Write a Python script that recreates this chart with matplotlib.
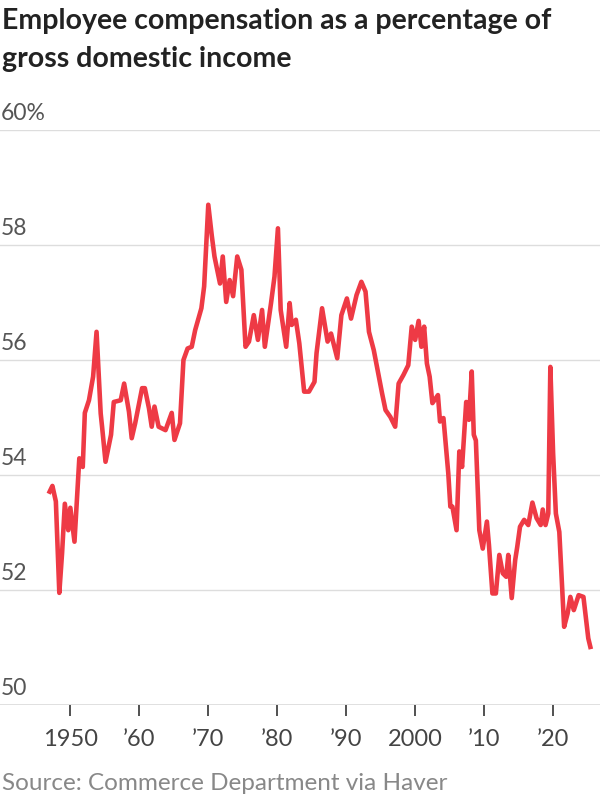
import matplotlib.pyplot as plt

years = [1947.0, 1947.4, 1947.9, 1948.4, 1948.8, 1949.2, 1949.7, 1950.0, 1950.6, 1951.3,
         1951.8, 1952.1, 1952.7, 1953.3, 1953.8, 1954.4, 1954.6, 1955.1, 1955.9, 1956.3,
         1957.3, 1957.8, 1958.5, 1958.9, 1959.4, 1960.4, 1960.8, 1961.4, 1961.8, 1962.2,
         1962.8, 1963.8, 1964.7, 1965.1, 1965.9, 1966.4, 1967.0, 1967.6, 1968.1, 1969.0,
         1969.4, 1970.0, 1970.5, 1970.9, 1971.7, 1972.1, 1972.6, 1973.1, 1973.6, 1974.2,
         1974.8, 1975.4, 1975.9, 1976.6, 1977.2, 1977.8, 1978.2, 1979.1, 1979.6, 1980.1,
         1980.5, 1981.3, 1981.8, 1982.1, 1982.7, 1983.2, 1983.9, 1984.6, 1985.4, 1985.7,
         1986.5, 1987.3, 1987.8, 1988.7, 1989.3, 1990.1, 1990.7, 1991.5, 1992.2, 1992.8,
         1993.3, 1994.0, 1994.5, 1995.2, 1995.7, 1996.4, 1997.1, 1997.6, 1998.3, 1999.0,
         1999.5, 2000.0, 2000.5, 2000.9, 2001.3, 2001.7, 2002.1, 2002.5, 2003.3, 2003.6,
         2004.1, 2004.8, 2005.1, 2005.4, 2006.0, 2006.4, 2006.8, 2007.4, 2007.8, 2008.2,
         2008.5, 2008.8, 2009.3, 2009.8, 2010.4, 2010.7, 2011.2, 2011.7, 2012.2, 2012.7,
         2013.2, 2013.5, 2014.0, 2014.5, 2014.8, 2015.2, 2015.8, 2016.4, 2017.0, 2017.6,
         2018.2, 2018.5, 2018.9, 2019.3, 2019.6, 2020.0, 2020.4, 2020.9, 2021.6, 2022.1,
         2022.5, 2023.0, 2023.7, 2024.4, 2025.1, 2025.4]
share = [53.71, 53.81, 53.54, 51.95, 52.64, 53.5, 53.04, 53.43, 52.84, 54.29,
         54.14, 55.08, 55.3, 55.71, 56.49, 55.07, 54.84, 54.23, 54.70, 55.27,
         55.30, 55.59, 55.10, 54.64, 54.90, 55.51, 55.51, 55.16, 54.84, 55.19,
         54.84, 54.78, 55.08, 54.61, 54.90, 56.0, 56.2, 56.23, 56.52, 56.90,
         57.28, 58.7, 58.17, 57.8, 57.33, 57.8, 57.01, 57.39, 57.11, 57.8,
         57.57, 56.23, 56.32, 56.78, 56.35, 56.87, 56.23, 56.99, 57.45, 58.29,
         56.87, 56.23, 56.99, 56.61, 56.70, 56.29, 55.45, 55.45, 55.62, 56.12,
         56.90, 56.32, 56.46, 56.03, 56.78, 57.07, 56.72, 57.13, 57.36, 57.19,
         56.49, 56.17, 55.86, 55.42, 55.13, 55.01, 54.84, 55.59, 55.74, 55.91,
         56.58, 56.35, 56.68, 56.23, 56.58, 55.94, 55.71, 55.25, 55.39, 54.93,
         54.99, 54.03, 53.45, 53.45, 53.04, 54.41, 54.14, 55.27, 54.96, 55.80,
         54.70, 54.6, 53.04, 52.72, 53.19, 52.78, 51.94, 51.94, 52.61, 52.29,
         52.23, 52.61, 51.86, 52.52, 52.75, 53.10, 53.22, 53.13, 53.52, 53.25,
         53.13, 53.40, 53.13, 53.33, 55.88, 54.38, 53.33, 53.01, 51.36, 51.59,
         51.88, 51.65, 51.91, 51.88, 51.16, 51.01]

y_ticks = [50, 52, 54, 56, 58, 60]
y_labels = ["50", "52", "54", "56", "58", "60%"]
x_ticks = [1950, 1960, 1970, 1980, 1990, 2000, 2010, 2020]
x_labels = ["1950", "\u201960", "\u201970", "\u201980", "\u201990", "2000", "\u201910", "\u201920"]

plt.rcParams["font.family"] = ["Lato", "DejaVu Sans"]
fig = plt.figure(figsize=(6, 8), dpi=100)
ax = fig.add_axes([0, 1 - 705 / 800, 1, 575 / 800])

ax.plot(years, share, color="#ee3a45", linewidth=3.3, solid_joinstyle="round", clip_on=False, zorder=3)
ax.set_xlim(1939.8, 2026.8)
ax.set_ylim(50, 60)

for v, lab in zip(y_ticks, y_labels):
    ax.axhline(v, color="#dddddd", linewidth=1.3 if v == 50 else 1, zorder=1)
    ax.text(0.002, v + 0.1, lab, transform=ax.get_yaxis_transform(), fontsize=16.5,
            color="#555555", va="bottom", ha="left")

ax.set_yticks([])
ax.set_xticks(x_ticks)
ax.set_xticklabels(x_labels, fontsize=17, color="#444444")
ax.tick_params(axis="x", length=8, width=1.2, color="#333333", pad=9)
for s in ax.spines.values():
    s.set_visible(False)

fig.text(0.003, 0.99, "Employee compensation as a percentage of\ngross domestic income",
         fontsize=20.5, fontweight="bold", va="top", ha="left", color="#222222", linespacing=1.55)
fig.text(0.003, 0.008, "Source: Commerce Department via Haver", fontsize=17.5,
         color="#888888", va="bottom", ha="left")

fig.savefig("out.png", dpi=100)
